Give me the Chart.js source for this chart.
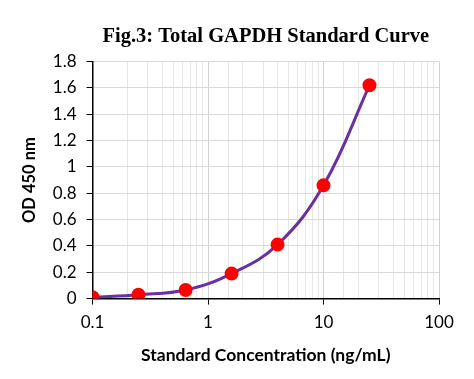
<!DOCTYPE html>
<html>
<head>
<meta charset="utf-8">
<script src="https://cdn.jsdelivr.net/npm/chart.js"></script>
<style>
  html, body { margin: 0; padding: 0; background: #fff; }
  #wrap { width: 474px; height: 379px; }
</style>
</head>
<body>
<div id="wrap"><canvas id="curveChart"></canvas></div>
<script>
// 标准曲线数据
const concentrations = [0.1, 0.25, 0.64, 1.6, 4, 10, 25];
const odValues = [0.01, 0.03, 0.065, 0.19, 0.41, 0.86, 1.62];
const xMajorTicks = [0.1, 1, 10, 100];

const points = concentrations.map((c, i) => ({ x: c, y: odValues[i] }));

function isMajor(v) {
    return xMajorTicks.some(t => Math.abs(t - v) < 1e-9);
}

new Chart(document.getElementById('curveChart'), {
    type: 'scatter',
    data: {
        datasets: [{
            data: points,
            showLine: true,
            tension: 0.4,
            borderColor: '#6a2fa0',
            borderWidth: 3,
            pointRadius: 5.5,
            pointBackgroundColor: '#ff0000',
            pointBorderColor: '#ff0000',
            pointHoverRadius: 5.5
        }]
    },
    options: {
        responsive: true,
        maintainAspectRatio: false,
        animation: false,
        layout: { padding: { left: 16, right: 35, top: 14, bottom: 9 } },
        plugins: {
            legend: { display: false },
            tooltip: { enabled: false },
            title: {
                display: true,
                fullSize: false,
                text: 'Fig.3: Total GAPDH Standard Curve',
                color: '#000',
                font: { family: 'Liberation Serif', size: 20.5, weight: 'bold' },
                padding: { top: 10, bottom: 13 }
            }
        },
        scales: {
            x: {
                type: 'logarithmic',
                min: 0.1,
                max: 100,
                border: { color: '#000', width: 1.5 },
                grid: {
                    color: ctx => isMajor(ctx.tick.value) ? '#d0d0d0' : '#e6e6e6',
                    tickColor: ctx => isMajor(ctx.tick.value) ? '#000' : 'rgba(0,0,0,0)',
                    tickLength: 6
                },
                ticks: {
                    autoSkip: false,
                    maxRotation: 0,
                    color: '#000',
                    font: { family: 'Lato', size: 17 },
                    padding: 8,
                    callback: v => isMajor(v) ? String(v) : ''
                },
                title: {
                    display: true,
                    text: 'Standard Concentration (ng/mL)',
                    color: '#000',
                    font: { family: 'Lato', size: 17.5, weight: 'bold' },
                    padding: { top: 4 }
                }
            },
            y: {
                min: 0,
                max: 1.8,
                border: { color: '#000', width: 1.5 },
                grid: { color: '#d9d9d9', tickColor: '#000', tickLength: 6 },
                ticks: {
                    stepSize: 0.2,
                    color: '#000',
                    font: { family: 'Lato', size: 17 },
                    padding: 10,
                    callback: v => String(Math.round(v * 10) / 10)
                },
                title: {
                    display: true,
                    text: 'OD 450 nm',
                    color: '#000',
                    font: { family: 'Lato', size: 16.5, weight: 'bold' },
                    padding: { bottom: 3 }
                }
            }
        }
    }
});
</script>
</body>
</html>
